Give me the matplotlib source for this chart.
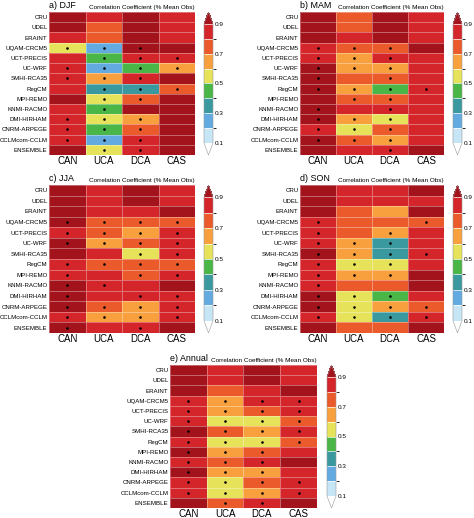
import matplotlib
matplotlib.use("Agg")
import matplotlib.pyplot as plt
import numpy as np
from matplotlib.colors import ListedColormap, BoundaryNorm

plt.rcParams['font.family'] = ['Liberation Sans', 'DejaVu Sans']

# Datos
models = ['CRU', 'UDEL', 'ERAINT', 'UQAM-CRCM5', 'UCT-PRECIS', 'UC-WRF', 'SMHI-RCA35',
          'RegCM', 'MPI-REMO', 'KNMI-RACMO', 'DMI-HIRHAM', 'CNRM-ARPEGE', 'CCLMcom-CCLM',
          'ENSEMBLE']
regions = ['CAN', 'UCA', 'DCA', 'CAS']

# correlacion (filas = modelos, columnas = regiones)
djf = [[0.93, 0.85, 0.93, 0.85], [0.93, 0.75, 0.93, 0.85], [0.85, 0.75, 0.93, 0.85],
       [0.55, 0.25, 0.93, 0.93], [0.85, 0.45, 0.85, 0.85], [0.85, 0.25, 0.45, 0.65],
       [0.85, 0.65, 0.85, 0.93], [0.85, 0.35, 0.35, 0.75], [0.93, 0.55, 0.75, 0.93],
       [0.85, 0.45, 0.93, 0.93], [0.85, 0.55, 0.65, 0.93], [0.85, 0.45, 0.75, 0.93],
       [0.85, 0.25, 0.85, 0.93], [0.93, 0.55, 0.85, 0.93]]
mam = [[0.93, 0.75, 0.93, 0.85], [0.93, 0.75, 0.93, 0.85], [0.93, 0.85, 0.93, 0.85],
       [0.85, 0.75, 0.75, 0.93], [0.85, 0.65, 0.85, 0.85], [0.93, 0.65, 0.65, 0.85],
       [0.93, 0.75, 0.75, 0.85], [0.93, 0.65, 0.45, 0.85], [0.93, 0.75, 0.75, 0.85],
       [0.93, 0.85, 0.85, 0.85], [0.93, 0.65, 0.55, 0.85], [0.85, 0.55, 0.75, 0.85],
       [0.93, 0.75, 0.65, 0.85], [0.93, 0.85, 0.85, 0.93]]
jja = [[0.93, 0.85, 0.93, 0.85], [0.93, 0.85, 0.93, 0.85], [0.93, 0.85, 0.85, 0.93],
       [0.93, 0.75, 0.75, 0.75], [0.85, 0.75, 0.65, 0.85], [0.93, 0.65, 0.75, 0.85],
       [0.93, 0.85, 0.55, 0.85], [0.85, 0.75, 0.75, 0.75], [0.85, 0.85, 0.75, 0.85],
       [0.93, 0.85, 0.85, 0.93], [0.93, 0.85, 0.85, 0.85], [0.93, 0.75, 0.65, 0.85],
       [0.85, 0.65, 0.65, 0.85], [0.93, 0.85, 0.85, 0.93]]
son = [[0.93, 0.85, 0.85, 0.93], [0.93, 0.85, 0.85, 0.85], [0.93, 0.75, 0.65, 0.93],
       [0.85, 0.75, 0.75, 0.75], [0.85, 0.75, 0.65, 0.85], [0.85, 0.65, 0.35, 0.85],
       [0.93, 0.65, 0.35, 0.85], [0.85, 0.55, 0.55, 0.85], [0.85, 0.65, 0.65, 0.93],
       [0.85, 0.75, 0.75, 0.93], [0.93, 0.55, 0.45, 0.85], [0.93, 0.55, 0.65, 0.75],
       [0.85, 0.55, 0.35, 0.85], [0.93, 0.75, 0.75, 0.93]]
annual = [[0.93, 0.85, 0.93, 0.85], [0.93, 0.85, 0.93, 0.85], [0.93, 0.75, 0.85, 0.93],
          [0.85, 0.65, 0.85, 0.85], [0.85, 0.65, 0.75, 0.85], [0.85, 0.55, 0.55, 0.75],
          [0.93, 0.75, 0.65, 0.85], [0.85, 0.55, 0.55, 0.75], [0.93, 0.65, 0.75, 0.85],
          [0.85, 0.75, 0.85, 0.93], [0.93, 0.65, 0.65, 0.85], [0.85, 0.55, 0.75, 0.85],
          [0.85, 0.55, 0.65, 0.85], [0.93, 0.75, 0.85, 0.93]]

# significancia (puntos)
djf_sig = [[0, 0, 0, 0], [0, 0, 0, 0], [0, 0, 0, 0], [1, 1, 1, 0], [0, 1, 1, 1],
           [1, 1, 1, 1], [1, 1, 1, 0], [0, 1, 1, 1], [0, 1, 1, 0], [0, 1, 0, 0],
           [1, 1, 1, 0], [1, 1, 1, 0], [1, 1, 1, 0], [0, 1, 1, 0]]
mam_sig = [[0, 0, 0, 0], [0, 0, 0, 0], [0, 0, 0, 0], [1, 1, 1, 0], [1, 1, 1, 0],
           [1, 1, 1, 0], [1, 0, 1, 0], [1, 1, 1, 1], [0, 1, 1, 0], [1, 0, 1, 0],
           [1, 1, 1, 0], [1, 1, 1, 0], [1, 1, 1, 0], [0, 0, 1, 0]]
jja_sig = [[0, 0, 0, 0], [0, 0, 0, 0], [0, 0, 0, 0], [1, 1, 1, 1], [1, 1, 1, 1],
           [1, 1, 1, 1], [0, 0, 1, 1], [1, 1, 1, 1], [1, 0, 1, 1], [1, 1, 0, 0],
           [1, 0, 1, 1], [1, 1, 1, 1], [1, 1, 1, 1], [1, 0, 1, 0]]
son_sig = [[0, 0, 0, 0], [0, 0, 0, 0], [0, 0, 0, 0], [1, 0, 0, 1], [1, 0, 1, 0],
           [1, 1, 1, 0], [1, 1, 1, 1], [1, 1, 1, 0], [1, 1, 1, 0], [1, 0, 0, 0],
           [1, 1, 1, 0], [1, 1, 1, 1], [1, 1, 1, 1], [0, 0, 0, 0]]
annual_sig = [[0, 0, 0, 0], [0, 0, 0, 0], [0, 0, 0, 0], [1, 1, 1, 1], [1, 1, 1, 1],
              [1, 1, 1, 1], [1, 1, 1, 1], [1, 1, 1, 1], [1, 1, 1, 0], [1, 1, 1, 0],
              [1, 1, 1, 0], [1, 1, 1, 1], [1, 1, 1, 1], [0, 1, 1, 0]]

levels = [0.1, 0.2, 0.3, 0.4, 0.5, 0.6, 0.7, 0.8, 0.9]
colors = ['#c6e6f6', '#62aadf', '#3a999e', '#4bb648', '#e6e25a',
          '#f8a03e', '#eb5a2b', '#d4252a', '#a3131c']
cmap = ListedColormap(colors[:-1])
cmap.set_under('white')
cmap.set_over(colors[-1])
norm = BoundaryNorm(levels, cmap.N)

W, H = 474, 518
fig = plt.figure(figsize=(W / 100, H / 100), dpi=100)


def px(x0, y0, x1, y1):
    return [x0 / W, 1 - y1 / H, (x1 - x0) / W, (y1 - y0) / H]


paneles = [
    ('a) DJF', djf, djf_sig, (49, 12, 195, 155), (204, 12, 213, 155)),
    ('b) MAM', mam, mam_sig, (300, 12, 444, 155), (453, 12, 462, 155)),
    ('c) JJA', jja, jja_sig, (49, 185, 195, 333), (204, 185, 213, 333)),
    ('d) SON', son, son_sig, (300, 185, 444, 333), (453, 185, 462, 333)),
    ('e) Annual', annual, annual_sig, (170, 365, 317, 508), (327, 365, 336, 508)),
]

for titulo, datos, sig, caja, cbox in paneles:
    ax = fig.add_axes(px(*caja))
    z = np.array(datos)
    s = np.array(sig)
    mesh = ax.pcolormesh(z, cmap=cmap, norm=norm, edgecolors=(1, 1, 1, 0.35), linewidth=0.6)
    yy, xx = np.nonzero(s)
    ax.scatter(xx + 0.5, yy + 0.5, s=3.5, c='black', linewidths=0, zorder=3)
    ax.set_xlim(0, len(regions))
    ax.set_ylim(len(models), 0)
    ax.set_xticks(np.arange(len(regions)) + 0.5)
    ax.set_xticklabels(regions, fontsize=7)
    ax.set_yticks(np.arange(len(models)) + 0.5)
    ax.set_yticklabels(models, fontsize=4.4)
    ax.tick_params(axis='y', length=0, pad=1)
    ax.tick_params(axis='x', length=0, pad=1)
    for sp in ax.spines.values():
        sp.set_visible(False)
    ax.text(0, 1.012, titulo, transform=ax.transAxes, fontsize=6.4, ha='left', va='bottom')
    ax.text(1, 1.012, 'Correlation Coefficient (% Mean Obs)', transform=ax.transAxes,
            fontsize=4.6, ha='right', va='bottom')

    cax = fig.add_axes(px(*cbox))
    cb = fig.colorbar(mesh, cax=cax, extend='both', ticks=[0.1, 0.3, 0.5, 0.7, 0.9],
                      drawedges=True, extendfrac=0.1)
    cb.dividers.set_color('white')
    cb.dividers.set_linewidth(0.5)
    cb.outline.set_edgecolor('#999999')
    cb.outline.set_linewidth(0.4)
    cb.ax.tick_params(length=0, labelsize=4.6, pad=1.5)

fig.savefig('out.png', dpi=100)
